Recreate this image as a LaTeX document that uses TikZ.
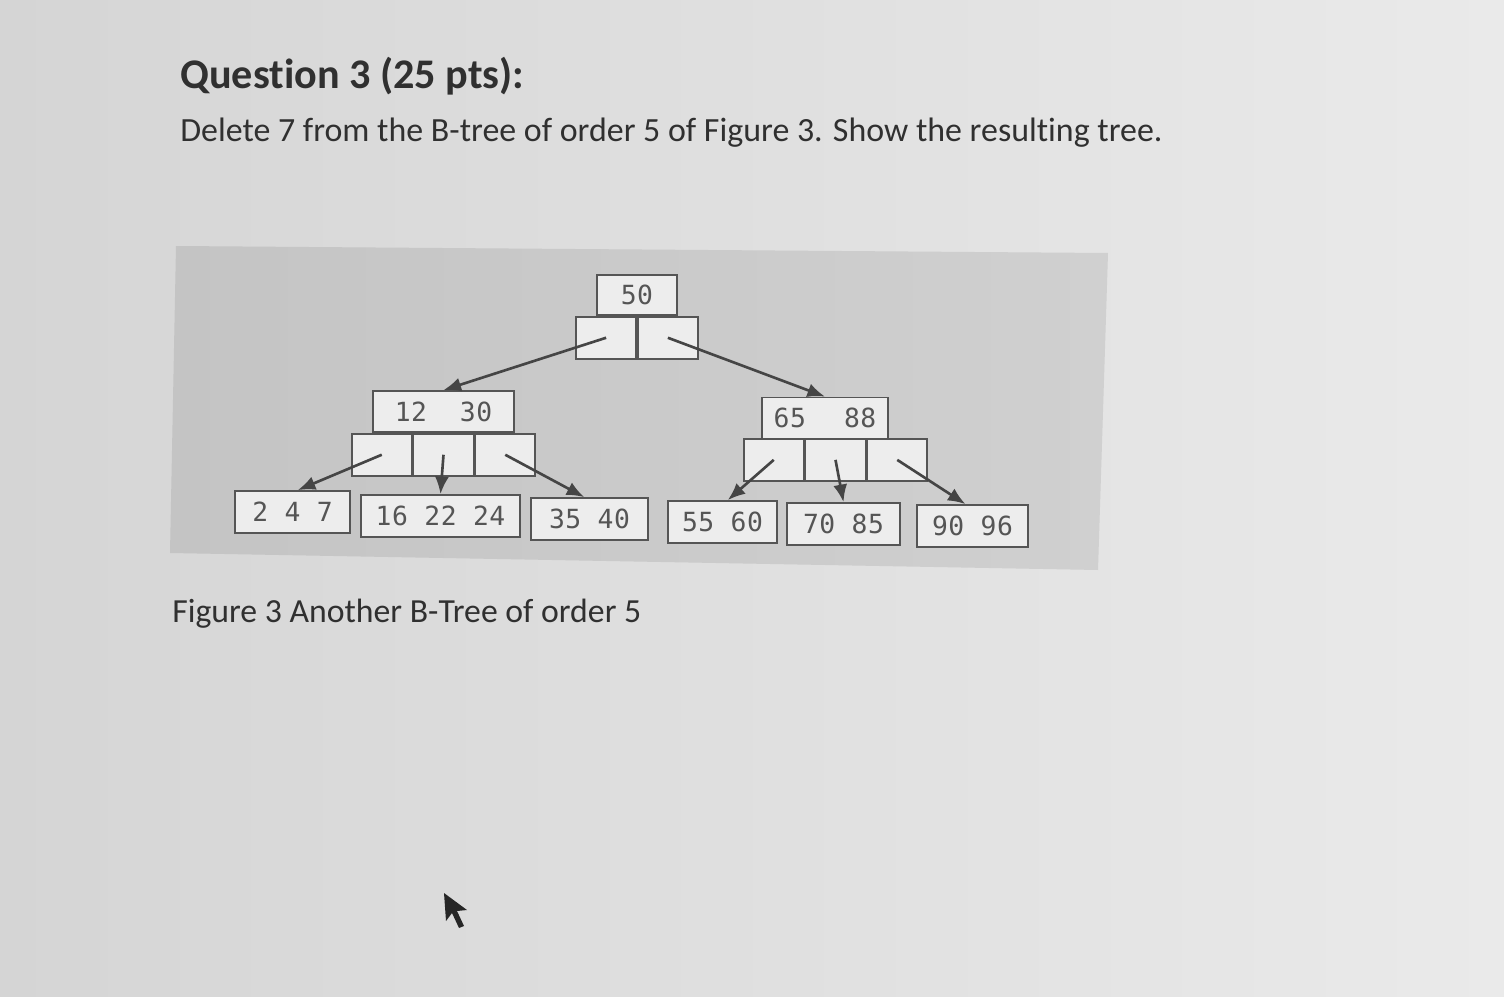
\documentclass[tikz,border=0pt]{standalone}
\usepackage{fontspec}
\setmainfont[Ligatures=NoCommon]{Carlito}
\newfontfamily\treefont[LetterSpace=2]{DejaVu Sans Mono}
\usetikzlibrary{arrows.meta,positioning}
\definecolor{paperL}{HTML}{D5D5D5}
\definecolor{paperR}{HTML}{EAEAEA}
\definecolor{panelL}{HTML}{C4C4C4}
\definecolor{panelR}{HTML}{D0D0D0}
\definecolor{boxfill}{HTML}{EDEDED}
\definecolor{boxline}{HTML}{555555}
\definecolor{linkgray}{HTML}{454545}
\definecolor{treetext}{HTML}{555555}
\definecolor{inktext}{HTML}{303030}
\begin{document}
\begin{tikzpicture}[x=0.02cm,y=-0.02cm,
    keybox/.style={draw=boxline,fill=boxfill,line width=1pt,inner sep=0pt,
      minimum height=0.82cm,text=treetext,font=\treefont\fontsize{15pt}{16pt}\selectfont},
    ptrcell/.style={draw=boxline,fill=boxfill,line width=1pt,inner sep=0pt,
      minimum width=1.2cm,minimum height=0.84cm},
    leaf/.style={keybox,minimum height=0.84cm},
    link/.style={draw=linkgray,line width=1.5pt,-{Latex[length=10pt,width=8pt]}}]
    \useasboundingbox (0,0) rectangle (1504,997);
    %% Paper and figure panel
    \shade[left color=paperL,right color=paperR] (0,0) rectangle (1504,997);
    \shade[left color=panelL,right color=panelR] (176,246) -- (1108,253) -- (1098,570) -- (170,553) -- cycle;
    %% Texts
    \node[anchor=base west,inner sep=0pt,text=inktext,font=\bfseries\fontsize{24pt}{26pt}\selectfont] (title) at (180,89) {Question 3 (25 pts):};
    \node[anchor=base west,inner sep=0pt,text=inktext,font=\fontsize{19.3pt}{22pt}\selectfont] (task) at (180,141) {Delete 7 from the B-tree of order 5 of Figure 3. Show the resulting tree.};
    \node[anchor=base west,inner sep=0pt,text=inktext,font=\fontsize{19.2pt}{22pt}\selectfont] (caption) at (172,622) {Figure 3 Another B-Tree of order 5};
    %% Root
    \node[keybox,minimum width=1.6cm,minimum height=0.8cm] (root) at (637,295) {50};
    \node[ptrcell,anchor=north east] (rootL) at (root.south) {};
    \node[ptrcell,anchor=north west] (rootR) at (root.south) {};
    %% Internal nodes
    \node[keybox,minimum width=2.82cm] (lkey) at (443.5,411.5) {12~~30};
    \node[ptrcell,anchor=north] (lM) at (lkey.south) {};
    \node[ptrcell,anchor=north east] (lL) at (lM.north west) {};
    \node[ptrcell,anchor=north west] (lR) at (lM.north east) {};
    \node[keybox,minimum width=2.52cm] (rkey) at (825,418) {65~~\hspace{3pt}88};
    \node[ptrcell,anchor=north] (rM) at (835.5,438) {};
    \node[ptrcell,anchor=north east] (rL) at (rM.north west) {};
    \node[ptrcell,anchor=north west] (rR) at (rM.north east) {};
    %% Leaves
    \node[leaf,minimum width=2.30cm] (leafA) at (292.5,512) {2 4 7};
    \node[leaf,minimum width=3.18cm] (leafB) at (440.5,516) {16 22 24};
    \node[leaf,minimum width=2.34cm] (leafC) at (589.5,519) {35 40};
    \node[leaf,minimum width=2.18cm] (leafD) at (722.5,522) {55 60};
    \node[leaf,minimum width=2.26cm] (leafE) at (843.5,524) {70 85};
    \node[leaf,minimum width=2.22cm] (leafF) at (972.5,526) {90 96};
    %% Pointers
    \draw[link] (rootL.center) -- (lkey.north);
    \draw[link] (rootR.center) -- (rkey.north);
    \draw[link] (lL.center) -- ([xshift=3pt]leafA.north);
    \draw[link] (lM.center) -- (leafB.north);
    \draw[link] (lR.center) -- ([xshift=-3pt]leafC.north);
    \draw[link] (rL.center) -- ([xshift=3pt]leafD.north);
    \draw[link] (rM.center) -- (leafE.north);
    \draw[link] (rR.center) -- ([xshift=-4pt]leafF.north);
    %% Mouse pointer
    \fill[black!85] (444,893) -- (446,921) -- (452,913) -- (459,928) -- (464,926) -- (457,911) -- (467,910) -- cycle;
\end{tikzpicture}
\end{document}
